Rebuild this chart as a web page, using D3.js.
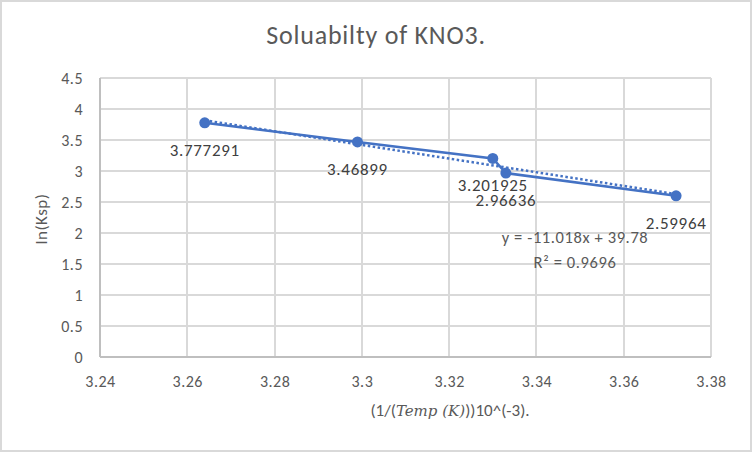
<!DOCTYPE html>
<html>
<head>
<meta charset="utf-8">
<script src="https://cdn.jsdelivr.net/npm/d3@7"></script>
<style>
  body { margin: 0; background: #fff; }
  text { font-family: Calibri, Carlito, Lato, "Liberation Sans", sans-serif; }
</style>
</head>
<body>
<div id="chart"></div>
<script>
// Data
var invTemp = [3.264, 3.299, 3.330, 3.333, 3.372];
var lnKsp = [3.777291, 3.46899, 3.201925, 2.96636, 2.59964];
var pointLabels = ["3.777291", "3.46899", "3.201925", "2.96636", "2.59964"];
var xTicks = [3.24, 3.26, 3.28, 3.30, 3.32, 3.34, 3.36, 3.38];
var yTicks = [0, 0.5, 1, 1.5, 2, 2.5, 3, 3.5, 4, 4.5];
var trendSlope = -11.018;
var trendIntercept = 39.78;

var svgWidth = 752;
var svgHeight = 452;
var margin = { top: 78, right: 41, bottom: 95, left: 100 };
var width = svgWidth - margin.left - margin.right;
var height = svgHeight - margin.top - margin.bottom;

var blue = "#4472C4";
var gridColor = "#d9d9d9";
var axisColor = "#bfbfbf";
var textColor = "#595959";

var svg = d3.select("#chart")
  .append("svg")
  .attr("width", svgWidth)
  .attr("height", svgHeight);

// chart border
svg.append("rect")
  .attr("x", 1).attr("y", 1)
  .attr("width", svgWidth - 2).attr("height", svgHeight - 2)
  .attr("fill", "#fff")
  .attr("stroke", gridColor)
  .attr("stroke-width", 2);

var chartGroup = svg.append("g")
  .attr("transform", `translate(${margin.left}, ${margin.top})`);

var xScale = d3.scaleLinear().domain([3.24, 3.38]).range([0, width]);
var yScale = d3.scaleLinear().domain([0, 4.5]).range([height, 0]);

// gridlines
chartGroup.append("g")
  .selectAll("line")
  .data(yTicks.slice(1))
  .enter()
  .append("line")
  .attr("x1", 0).attr("x2", width)
  .attr("y1", d => Math.round(yScale(d)))
  .attr("y2", d => Math.round(yScale(d)))
  .attr("stroke", gridColor)
  .attr("stroke-width", 2);

chartGroup.append("g")
  .selectAll("line")
  .data(xTicks.slice(1))
  .enter()
  .append("line")
  .attr("y1", 0).attr("y2", height)
  .attr("x1", d => Math.round(xScale(d)))
  .attr("x2", d => Math.round(xScale(d)))
  .attr("stroke", gridColor)
  .attr("stroke-width", 2);

// axis lines
chartGroup.append("line")
  .attr("x1", 0).attr("x2", width)
  .attr("y1", height).attr("y2", height)
  .attr("stroke", axisColor).attr("stroke-width", 2);
chartGroup.append("line")
  .attr("x1", 0).attr("x2", 0)
  .attr("y1", 0).attr("y2", height)
  .attr("stroke", axisColor).attr("stroke-width", 2);

// tick labels
var bottomAxis = d3.axisBottom(xScale)
  .tickValues(xTicks)
  .tickSize(0)
  .tickPadding(19)
  .tickFormat(d => String(+d.toFixed(2)));

var leftAxis = d3.axisLeft(yScale)
  .tickValues(yTicks)
  .tickSize(0)
  .tickPadding(17)
  .tickFormat(d => String(d));

var xAxis = chartGroup.append("g")
  .attr("transform", `translate(0, ${height})`)
  .call(bottomAxis);

var yAxis = chartGroup.append("g")
  .call(leftAxis);

[xAxis, yAxis].forEach(function (ax) {
  ax.select(".domain").remove();
  ax.selectAll("text")
    .attr("fill", textColor)
    .style("font-size", "16px")
    .style("letter-spacing", "0.5px");
});

// trendline (dotted)
var xExtent = d3.extent(invTemp);
chartGroup.append("line")
  .attr("x1", xScale(xExtent[0]))
  .attr("y1", yScale(trendSlope * xExtent[0] + trendIntercept))
  .attr("x2", xScale(xExtent[1]))
  .attr("y2", yScale(trendSlope * xExtent[1] + trendIntercept))
  .attr("stroke", blue)
  .attr("stroke-width", 2.5)
  .attr("stroke-dasharray", "2.5 2.5");

// series line
var points = invTemp.map((x, i) => ({ x: x, y: lnKsp[i], label: pointLabels[i] }));

chartGroup.append("path")
  .datum(points)
  .attr("fill", "none")
  .attr("stroke", blue)
  .attr("stroke-width", 2.5)
  .attr("d", d3.line().x(d => xScale(d.x)).y(d => yScale(d.y)));

chartGroup.selectAll("circle")
  .data(points)
  .enter()
  .append("circle")
  .attr("cx", d => xScale(d.x))
  .attr("cy", d => yScale(d.y))
  .attr("r", 5.5)
  .attr("fill", blue);

chartGroup.selectAll("text.pointLabel")
  .data(points)
  .enter()
  .append("text")
  .attr("class", "pointLabel")
  .attr("x", d => xScale(d.x))
  .attr("y", d => yScale(d.y) + 33)
  .attr("text-anchor", "middle")
  .attr("fill", "#404040")
  .style("font-size", "17px")
  .style("letter-spacing", "0.7px")
  .text(d => d.label);

// trendline equation
var eqX = 575 - margin.left;
chartGroup.append("text")
  .attr("x", eqX)
  .attr("y", 243 - margin.top)
  .attr("text-anchor", "middle")
  .attr("fill", textColor)
  .style("font-size", "16.5px")
  .style("letter-spacing", "0.6px")
  .text("y = -11.018x + 39.78");

chartGroup.append("text")
  .attr("x", eqX)
  .attr("y", 268 - margin.top)
  .attr("text-anchor", "middle")
  .attr("fill", textColor)
  .style("font-size", "16.5px")
  .style("letter-spacing", "0.6px")
  .text("R² = 0.9696");

// title
svg.append("text")
  .attr("x", 376)
  .attr("y", 44)
  .attr("text-anchor", "middle")
  .attr("fill", textColor)
  .style("font-size", "26px")
  .style("letter-spacing", "0.8px")
  .text("Soluabilty of KNO3.");

// y axis title
svg.append("text")
  .attr("transform", "rotate(-90)")
  .attr("x", -219)
  .attr("y", 47)
  .attr("text-anchor", "middle")
  .attr("fill", textColor)
  .style("font-size", "17px")
  .style("letter-spacing", "0.5px")
  .text("ln(Ksp)");

// x axis title
var xTitle = svg.append("text")
  .attr("x", 450)
  .attr("y", 416)
  .attr("text-anchor", "middle")
  .attr("fill", textColor)
  .style("font-size", "17px");
xTitle.append("tspan").text("(1/(");
xTitle.append("tspan")
  .style("font-family", "'DejaVu Serif', 'Liberation Serif', serif")
  .style("font-style", "italic")
  .style("font-size", "15px")
  .text("Temp (K)");
xTitle.append("tspan").text("))10^(-3).");
</script>
</body>
</html>
